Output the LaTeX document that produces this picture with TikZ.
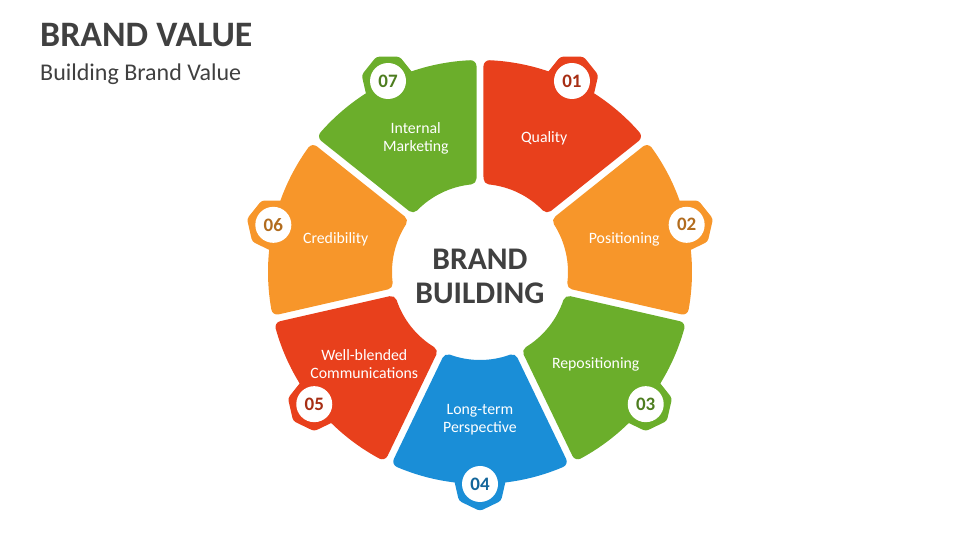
\documentclass[tikz,border=0pt]{standalone}
\usepackage{fontspec}
\setmainfont{Carlito}
\usetikzlibrary{shapes.geometric}
\definecolor{brandred}{HTML}{E8401C}
\definecolor{brandorange}{HTML}{F7962A}
\definecolor{brandgreen}{HTML}{6BAE2B}
\definecolor{brandblue}{HTML}{1A8ED7}
\definecolor{darktext}{HTML}{404040}
\begin{document}
\begin{tikzpicture}[
			x=1pt, y=1pt,
			line join=round,
			segfill/.style={fill=#1, draw=#1, line width=12pt, line join=round},
			badge/.style={regular polygon, regular polygon sides=7, shape border rotate=180,
				minimum size=54pt, inner sep=0pt, fill=#1, rounded corners=3pt},
			numdisc/.style={circle, fill=white, minimum size=36pt, inner sep=0pt,
				text=#1!72!black, font=\fontsize{19}{19}\selectfont\bfseries},
			seglabel/.style={text=white, align=center, font=\fontsize{15.8}{18}\selectfont},
		]
			\useasboundingbox (-480, -268) rectangle (480, 272);

			\node[anchor=base west, text=darktext, font=\fontsize{35.8}{40}\selectfont\bfseries, inner sep=0pt] (title) at (-440, 225) {BRAND VALUE};
			\node[anchor=base west, text=darktext, font=\fontsize{24}{28}\selectfont, inner sep=0pt] (subtitle) at (-440, 191) {Building Brand Value};

			\foreach \i/\col/\txt in {1/brandred/Quality, 2/brandorange/Positioning, 3/brandgreen/Repositioning,
				4/brandblue/{Long-term\\Perspective}, 5/brandred/{Well-blended\\Communications},
				6/brandorange/Credibility, 7/brandgreen/{Internal\\Marketing}}{
				\pgfmathsetmacro{\ta}{90-(\i-1)*360/7}
				\pgfmathsetmacro{\tb}{\ta-360/7}
				\pgfmathsetmacro{\tm}{\ta-180/7}
				\filldraw[segfill=\col] ({\ta-2.64}:206) arc[start angle={\ta-2.64}, end angle={\tb+2.64}, radius=206]
					-- ({\tb+5.8}:94) arc[start angle={\tb+5.8}, end angle={\ta-5.8}, radius=94] -- cycle;
				\node[badge=\col] (badge\i) at (\tm:212) {};
				\node[numdisc=\col] (num\i) at (badge\i) {0\i};
				\node[seglabel] (label\i) at (\tm:148) {\txt};
			}

			\node[align=center, text=darktext, font=\fontsize{31.5}{34}\selectfont\bfseries] (hub) at (0, -4) {BRAND\\BUILDING};
		\end{tikzpicture}
\end{document}
